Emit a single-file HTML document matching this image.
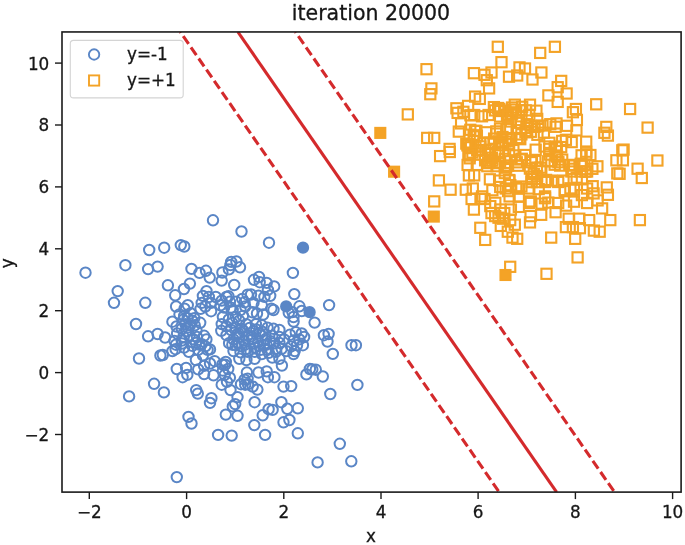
<!DOCTYPE html>
<html><head><meta charset="utf-8"><title>iteration 20000</title>
<style>html,body{margin:0;padding:0;background:#fff}svg{display:block}text{stroke:#161616;stroke-width:0.3px}</style>
</head><body>
<svg width="685" height="545" viewBox="0 0 685 545" font-family="DejaVu Sans, Liberation Sans, sans-serif" fill="#161616">
<rect width="685" height="545" fill="#fff"/>
<clipPath id="c"><rect x="62.0" y="31.95" width="619.1" height="460.15000000000003"/></clipPath>
<g clip-path="url(#c)">
<g fill="none" stroke="#5a86c6" stroke-width="2.0">
<circle cx="85.5" cy="272.7" r="5.2"/>
<circle cx="125.4" cy="265.2" r="5.2"/>
<circle cx="149.2" cy="250.0" r="5.2"/>
<circle cx="164.2" cy="247.7" r="5.2"/>
<circle cx="180.8" cy="245.1" r="5.2"/>
<circle cx="184.3" cy="246.5" r="5.2"/>
<circle cx="213.0" cy="220.3" r="5.2"/>
<circle cx="148.1" cy="269.1" r="5.2"/>
<circle cx="157.6" cy="266.6" r="5.2"/>
<circle cx="191.5" cy="268.9" r="5.2"/>
<circle cx="199.5" cy="272.9" r="5.2"/>
<circle cx="206.0" cy="270.8" r="5.2"/>
<circle cx="209.7" cy="277.6" r="5.2"/>
<circle cx="117.7" cy="291.1" r="5.2"/>
<circle cx="114.0" cy="302.8" r="5.2"/>
<circle cx="145.3" cy="302.8" r="5.2"/>
<circle cx="167.9" cy="285.3" r="5.2"/>
<circle cx="189.9" cy="283.6" r="5.2"/>
<circle cx="184.0" cy="289.0" r="5.2"/>
<circle cx="175.2" cy="295.3" r="5.2"/>
<circle cx="176.1" cy="306.5" r="5.2"/>
<circle cx="187.8" cy="305.1" r="5.2"/>
<circle cx="184.5" cy="308.6" r="5.2"/>
<circle cx="206.5" cy="291.1" r="5.2"/>
<circle cx="222.4" cy="272.5" r="5.2"/>
<circle cx="221.7" cy="280.6" r="5.2"/>
<circle cx="234.2" cy="285.0" r="5.2"/>
<circle cx="230.5" cy="265.0" r="5.2"/>
<circle cx="240.0" cy="267.3" r="5.2"/>
<circle cx="236.4" cy="261.5" r="5.2"/>
<circle cx="254.0" cy="279.8" r="5.2"/>
<circle cx="259.0" cy="277.0" r="5.2"/>
<circle cx="242.2" cy="298.9" r="5.2"/>
<circle cx="251.0" cy="294.5" r="5.2"/>
<circle cx="241.5" cy="231.5" r="5.2"/>
<circle cx="269.0" cy="242.7" r="5.2"/>
<circle cx="231.2" cy="261.9" r="5.2"/>
<circle cx="228.9" cy="269.4" r="5.2"/>
<circle cx="292.9" cy="272.9" r="5.2"/>
<circle cx="259.7" cy="282.2" r="5.2"/>
<circle cx="266.7" cy="282.9" r="5.2"/>
<circle cx="274.2" cy="286.4" r="5.2"/>
<circle cx="267.9" cy="289.9" r="5.2"/>
<circle cx="294.3" cy="294.1" r="5.2"/>
<circle cx="258.5" cy="295.8" r="5.2"/>
<circle cx="264.4" cy="296.9" r="5.2"/>
<circle cx="270.2" cy="295.8" r="5.2"/>
<circle cx="329.1" cy="305.1" r="5.2"/>
<circle cx="299.4" cy="306.3" r="5.2"/>
<circle cx="301.8" cy="311.0" r="5.2"/>
<circle cx="292.4" cy="312.1" r="5.2"/>
<circle cx="293.6" cy="321.5" r="5.2"/>
<circle cx="314.6" cy="322.6" r="5.2"/>
<circle cx="271.4" cy="308.6" r="5.2"/>
<circle cx="263.2" cy="314.5" r="5.2"/>
<circle cx="288.8" cy="312.9" r="5.2"/>
<circle cx="293.5" cy="317.0" r="5.2"/>
<circle cx="129.1" cy="396.4" r="5.2"/>
<circle cx="139.0" cy="358.5" r="5.2"/>
<circle cx="148.1" cy="336.3" r="5.2"/>
<circle cx="136.0" cy="324.0" r="5.2"/>
<circle cx="157.6" cy="334.0" r="5.2"/>
<circle cx="165.1" cy="337.5" r="5.2"/>
<circle cx="160.4" cy="355.5" r="5.2"/>
<circle cx="162.8" cy="355.0" r="5.2"/>
<circle cx="154.1" cy="383.8" r="5.2"/>
<circle cx="163.9" cy="392.4" r="5.2"/>
<circle cx="176.8" cy="369.0" r="5.2"/>
<circle cx="186.1" cy="367.9" r="5.2"/>
<circle cx="187.3" cy="374.9" r="5.2"/>
<circle cx="182.6" cy="377.2" r="5.2"/>
<circle cx="196.2" cy="390.1" r="5.2"/>
<circle cx="197.8" cy="393.6" r="5.2"/>
<circle cx="211.4" cy="398.2" r="5.2"/>
<circle cx="210.0" cy="402.9" r="5.2"/>
<circle cx="188.5" cy="416.9" r="5.2"/>
<circle cx="191.5" cy="423.5" r="5.2"/>
<circle cx="218.1" cy="434.9" r="5.2"/>
<circle cx="175.6" cy="349.2" r="5.2"/>
<circle cx="174.5" cy="341.0" r="5.2"/>
<circle cx="351.5" cy="345.2" r="5.2"/>
<circle cx="355.9" cy="345.2" r="5.2"/>
<circle cx="323.9" cy="335.2" r="5.2"/>
<circle cx="328.6" cy="334.0" r="5.2"/>
<circle cx="327.5" cy="341.5" r="5.2"/>
<circle cx="332.8" cy="353.9" r="5.2"/>
<circle cx="357.4" cy="384.9" r="5.2"/>
<circle cx="330.3" cy="394.0" r="5.2"/>
<circle cx="322.8" cy="376.5" r="5.2"/>
<circle cx="315.8" cy="369.7" r="5.2"/>
<circle cx="309.9" cy="369.0" r="5.2"/>
<circle cx="306.4" cy="374.4" r="5.2"/>
<circle cx="339.8" cy="443.8" r="5.2"/>
<circle cx="297.8" cy="433.3" r="5.2"/>
<circle cx="265.1" cy="434.9" r="5.2"/>
<circle cx="231.7" cy="435.6" r="5.2"/>
<circle cx="254.3" cy="425.1" r="5.2"/>
<circle cx="283.5" cy="422.3" r="5.2"/>
<circle cx="289.4" cy="420.0" r="5.2"/>
<circle cx="297.8" cy="408.3" r="5.2"/>
<circle cx="287.3" cy="408.8" r="5.2"/>
<circle cx="281.4" cy="402.2" r="5.2"/>
<circle cx="272.6" cy="409.9" r="5.2"/>
<circle cx="268.6" cy="409.2" r="5.2"/>
<circle cx="262.7" cy="415.3" r="5.2"/>
<circle cx="254.6" cy="402.2" r="5.2"/>
<circle cx="237.5" cy="415.8" r="5.2"/>
<circle cx="225.8" cy="414.6" r="5.2"/>
<circle cx="232.8" cy="406.4" r="5.2"/>
<circle cx="235.2" cy="404.1" r="5.2"/>
<circle cx="237.5" cy="397.1" r="5.2"/>
<circle cx="230.5" cy="390.1" r="5.2"/>
<circle cx="291.2" cy="386.1" r="5.2"/>
<circle cx="283.5" cy="386.6" r="5.2"/>
<circle cx="274.4" cy="377.2" r="5.2"/>
<circle cx="267.9" cy="377.2" r="5.2"/>
<circle cx="266.7" cy="371.4" r="5.2"/>
<circle cx="258.5" cy="372.5" r="5.2"/>
<circle cx="281.9" cy="365.5" r="5.2"/>
<circle cx="257.4" cy="389.6" r="5.2"/>
<circle cx="252.7" cy="386.6" r="5.2"/>
<circle cx="248.0" cy="384.2" r="5.2"/>
<circle cx="241.0" cy="384.2" r="5.2"/>
<circle cx="244.5" cy="379.6" r="5.2"/>
<circle cx="246.9" cy="372.5" r="5.2"/>
<circle cx="227.0" cy="381.9" r="5.2"/>
<circle cx="224.7" cy="374.9" r="5.2"/>
<circle cx="228.2" cy="369.0" r="5.2"/>
<circle cx="222.3" cy="364.4" r="5.2"/>
<circle cx="225.8" cy="362.0" r="5.2"/>
<circle cx="176.8" cy="477.1" r="5.2"/>
<circle cx="317.6" cy="462.4" r="5.2"/>
<circle cx="351.3" cy="461.3" r="5.2"/>
<circle cx="202.9" cy="295.9" r="5.2"/>
<circle cx="208.8" cy="297.0" r="5.2"/>
<circle cx="201.7" cy="302.9" r="5.2"/>
<circle cx="205.3" cy="306.5" r="5.2"/>
<circle cx="211.1" cy="302.9" r="5.2"/>
<circle cx="215.8" cy="297.0" r="5.2"/>
<circle cx="211.1" cy="311.2" r="5.2"/>
<circle cx="200.6" cy="308.8" r="5.2"/>
<circle cx="221.7" cy="300.6" r="5.2"/>
<circle cx="226.4" cy="297.0" r="5.2"/>
<circle cx="229.9" cy="301.8" r="5.2"/>
<circle cx="224.1" cy="307.6" r="5.2"/>
<circle cx="231.1" cy="307.6" r="5.2"/>
<circle cx="220.5" cy="305.3" r="5.2"/>
<circle cx="245.2" cy="306.5" r="5.2"/>
<circle cx="240.5" cy="310.0" r="5.2"/>
<circle cx="247.6" cy="294.7" r="5.2"/>
<circle cx="187.6" cy="318.2" r="5.2"/>
<circle cx="192.3" cy="320.6" r="5.2"/>
<circle cx="185.3" cy="324.1" r="5.2"/>
<circle cx="190.0" cy="325.3" r="5.2"/>
<circle cx="194.7" cy="325.3" r="5.2"/>
<circle cx="181.8" cy="328.8" r="5.2"/>
<circle cx="186.5" cy="331.1" r="5.2"/>
<circle cx="172.4" cy="321.7" r="5.2"/>
<circle cx="177.1" cy="333.5" r="5.2"/>
<circle cx="181.8" cy="340.5" r="5.2"/>
<circle cx="184.1" cy="347.6" r="5.2"/>
<circle cx="172.4" cy="351.1" r="5.2"/>
<circle cx="197.0" cy="337.0" r="5.2"/>
<circle cx="204.1" cy="335.8" r="5.2"/>
<circle cx="206.4" cy="339.4" r="5.2"/>
<circle cx="195.9" cy="342.9" r="5.2"/>
<circle cx="201.7" cy="344.1" r="5.2"/>
<circle cx="205.3" cy="346.4" r="5.2"/>
<circle cx="198.2" cy="349.9" r="5.2"/>
<circle cx="207.6" cy="349.9" r="5.2"/>
<circle cx="193.5" cy="339.4" r="5.2"/>
<circle cx="222.9" cy="317.0" r="5.2"/>
<circle cx="228.8" cy="319.4" r="5.2"/>
<circle cx="221.7" cy="324.1" r="5.2"/>
<circle cx="226.4" cy="326.4" r="5.2"/>
<circle cx="232.3" cy="322.9" r="5.2"/>
<circle cx="235.8" cy="317.0" r="5.2"/>
<circle cx="239.3" cy="320.6" r="5.2"/>
<circle cx="242.9" cy="315.9" r="5.2"/>
<circle cx="235.8" cy="327.6" r="5.2"/>
<circle cx="241.7" cy="328.8" r="5.2"/>
<circle cx="246.4" cy="324.1" r="5.2"/>
<circle cx="231.1" cy="330.0" r="5.2"/>
<circle cx="233.5" cy="339.4" r="5.2"/>
<circle cx="239.3" cy="337.0" r="5.2"/>
<circle cx="244.0" cy="340.5" r="5.2"/>
<circle cx="235.8" cy="345.2" r="5.2"/>
<circle cx="241.7" cy="346.4" r="5.2"/>
<circle cx="247.6" cy="335.8" r="5.2"/>
<circle cx="233.5" cy="351.1" r="5.2"/>
<circle cx="240.5" cy="352.3" r="5.2"/>
<circle cx="246.4" cy="348.8" r="5.2"/>
<circle cx="253.5" cy="302.9" r="5.2"/>
<circle cx="261.8" cy="305.3" r="5.2"/>
<circle cx="273.5" cy="310.0" r="5.2"/>
<circle cx="252.4" cy="312.3" r="5.2"/>
<circle cx="257.0" cy="313.5" r="5.2"/>
<circle cx="255.9" cy="324.1" r="5.2"/>
<circle cx="261.8" cy="325.3" r="5.2"/>
<circle cx="267.6" cy="327.6" r="5.2"/>
<circle cx="273.5" cy="328.8" r="5.2"/>
<circle cx="279.4" cy="330.0" r="5.2"/>
<circle cx="253.5" cy="331.1" r="5.2"/>
<circle cx="259.4" cy="333.5" r="5.2"/>
<circle cx="265.3" cy="334.7" r="5.2"/>
<circle cx="272.3" cy="335.8" r="5.2"/>
<circle cx="279.4" cy="337.0" r="5.2"/>
<circle cx="252.4" cy="339.4" r="5.2"/>
<circle cx="258.2" cy="341.7" r="5.2"/>
<circle cx="264.1" cy="345.2" r="5.2"/>
<circle cx="279.4" cy="342.9" r="5.2"/>
<circle cx="284.1" cy="339.4" r="5.2"/>
<circle cx="254.7" cy="347.6" r="5.2"/>
<circle cx="260.6" cy="349.9" r="5.2"/>
<circle cx="267.6" cy="349.9" r="5.2"/>
<circle cx="275.9" cy="348.8" r="5.2"/>
<circle cx="281.7" cy="348.8" r="5.2"/>
<circle cx="290.0" cy="334.7" r="5.2"/>
<circle cx="295.8" cy="332.3" r="5.2"/>
<circle cx="301.7" cy="333.5" r="5.2"/>
<circle cx="293.5" cy="340.5" r="5.2"/>
<circle cx="299.4" cy="339.4" r="5.2"/>
<circle cx="304.1" cy="337.0" r="5.2"/>
<circle cx="291.1" cy="346.4" r="5.2"/>
<circle cx="297.0" cy="345.2" r="5.2"/>
<circle cx="302.9" cy="345.2" r="5.2"/>
<circle cx="286.4" cy="351.1" r="5.2"/>
<circle cx="294.7" cy="351.1" r="5.2"/>
<circle cx="175.9" cy="344.7" r="5.2"/>
<circle cx="181.8" cy="343.5" r="5.2"/>
<circle cx="188.8" cy="351.8" r="5.2"/>
<circle cx="192.3" cy="345.9" r="5.2"/>
<circle cx="199.4" cy="344.7" r="5.2"/>
<circle cx="210.0" cy="349.4" r="5.2"/>
<circle cx="202.9" cy="355.3" r="5.2"/>
<circle cx="195.9" cy="360.0" r="5.2"/>
<circle cx="198.2" cy="369.4" r="5.2"/>
<circle cx="204.1" cy="365.9" r="5.2"/>
<circle cx="210.0" cy="363.5" r="5.2"/>
<circle cx="214.7" cy="361.2" r="5.2"/>
<circle cx="204.1" cy="374.1" r="5.2"/>
<circle cx="213.5" cy="375.3" r="5.2"/>
<circle cx="225.2" cy="364.7" r="5.2"/>
<circle cx="222.9" cy="370.6" r="5.2"/>
<circle cx="229.9" cy="377.6" r="5.2"/>
<circle cx="221.7" cy="384.7" r="5.2"/>
<circle cx="247.6" cy="378.8" r="5.2"/>
<circle cx="245.2" cy="384.7" r="5.2"/>
<circle cx="232.3" cy="344.7" r="5.2"/>
<circle cx="238.2" cy="343.5" r="5.2"/>
<circle cx="245.2" cy="344.7" r="5.2"/>
<circle cx="247.6" cy="351.8" r="5.2"/>
<circle cx="239.3" cy="358.8" r="5.2"/>
<circle cx="246.4" cy="360.0" r="5.2"/>
<circle cx="312.3" cy="369.4" r="5.2"/>
<circle cx="253.5" cy="343.5" r="5.2"/>
<circle cx="259.4" cy="345.9" r="5.2"/>
<circle cx="266.5" cy="344.7" r="5.2"/>
<circle cx="273.5" cy="343.5" r="5.2"/>
<circle cx="254.7" cy="351.8" r="5.2"/>
<circle cx="261.8" cy="354.1" r="5.2"/>
<circle cx="268.8" cy="352.9" r="5.2"/>
<circle cx="275.9" cy="351.8" r="5.2"/>
<circle cx="272.3" cy="357.6" r="5.2"/>
<circle cx="279.4" cy="358.8" r="5.2"/>
<circle cx="293.5" cy="354.1" r="5.2"/>
<circle cx="254.7" cy="358.8" r="5.2"/>
<circle cx="179.5" cy="314.5" r="5.2"/>
<circle cx="183.2" cy="319.8" r="5.2"/>
<circle cx="176.5" cy="326.5" r="5.2"/>
<circle cx="189.5" cy="335.2" r="5.2"/>
<circle cx="196.5" cy="330.5" r="5.2"/>
<circle cx="200.2" cy="322.8" r="5.2"/>
<circle cx="183.5" cy="336.8" r="5.2"/>
<circle cx="226.5" cy="335.2" r="5.2"/>
<circle cx="238.2" cy="333.1" r="5.2"/>
<circle cx="229.1" cy="343.2" r="5.2"/>
<circle cx="243.5" cy="331.2" r="5.2"/>
<circle cx="184.2" cy="315.9" r="5.2"/>
<circle cx="190.6" cy="313.2" r="5.2"/>
<circle cx="194.3" cy="318.1" r="5.2"/>
<circle cx="187.9" cy="327.6" r="5.2"/>
<circle cx="249.6" cy="327.9" r="5.2"/>
<circle cx="256.3" cy="329.4" r="5.2"/>
<circle cx="262.2" cy="331.7" r="5.2"/>
<circle cx="251.5" cy="336.2" r="5.2"/>
<circle cx="228.4" cy="296.1" r="5.2"/>
<circle cx="236.1" cy="301.7" r="5.2"/>
<circle cx="244.6" cy="302.3" r="5.2"/>
<circle cx="232.7" cy="309.9" r="5.2"/>
<circle cx="265.8" cy="338.9" r="5.2"/>
<circle cx="270.4" cy="341.1" r="5.2"/>
<circle cx="221.3" cy="330.8" r="5.2"/>
<circle cx="237.1" cy="334.9" r="5.2"/>
</g>
<g fill="#5a86c6" stroke="#5a86c6" stroke-width="1.9">
<circle cx="303.0" cy="247.7" r="5.2"/>
<circle cx="286.2" cy="306.4" r="5.2"/>
<circle cx="309.6" cy="312.2" r="5.2"/>
</g>
<g fill="none" stroke="#f4a326" stroke-width="2.1">
<rect x="402.7" y="109.3" width="10.2" height="10.2"/>
<rect x="421.4" y="64.1" width="10.2" height="10.2"/>
<rect x="426.3" y="83.3" width="10.2" height="10.2"/>
<rect x="425.2" y="89.1" width="10.2" height="10.2"/>
<rect x="422.1" y="132.8" width="10.2" height="10.2"/>
<rect x="429.1" y="132.8" width="10.2" height="10.2"/>
<rect x="444.5" y="143.8" width="10.2" height="10.2"/>
<rect x="444.7" y="146.9" width="10.2" height="10.2"/>
<rect x="435.0" y="151.0" width="10.2" height="10.2"/>
<rect x="492.7" y="41.7" width="10.2" height="10.2"/>
<rect x="496.4" y="57.1" width="10.2" height="10.2"/>
<rect x="468.8" y="68.1" width="10.2" height="10.2"/>
<rect x="479.4" y="69.7" width="10.2" height="10.2"/>
<rect x="486.4" y="67.4" width="10.2" height="10.2"/>
<rect x="481.7" y="75.1" width="10.2" height="10.2"/>
<rect x="484.0" y="83.3" width="10.2" height="10.2"/>
<rect x="503.9" y="71.6" width="10.2" height="10.2"/>
<rect x="512.1" y="70.4" width="10.2" height="10.2"/>
<rect x="514.4" y="62.3" width="10.2" height="10.2"/>
<rect x="470.0" y="91.5" width="10.2" height="10.2"/>
<rect x="474.7" y="93.8" width="10.2" height="10.2"/>
<rect x="451.3" y="103.2" width="10.2" height="10.2"/>
<rect x="452.5" y="107.8" width="10.2" height="10.2"/>
<rect x="458.3" y="106.7" width="10.2" height="10.2"/>
<rect x="463.0" y="100.8" width="10.2" height="10.2"/>
<rect x="465.3" y="110.2" width="10.2" height="10.2"/>
<rect x="456.0" y="118.3" width="10.2" height="10.2"/>
<rect x="453.7" y="126.5" width="10.2" height="10.2"/>
<rect x="509.7" y="99.6" width="10.2" height="10.2"/>
<rect x="524.9" y="99.6" width="10.2" height="10.2"/>
<rect x="549.8" y="41.7" width="10.2" height="10.2"/>
<rect x="535.1" y="47.8" width="10.2" height="10.2"/>
<rect x="536.3" y="67.4" width="10.2" height="10.2"/>
<rect x="527.4" y="74.4" width="10.2" height="10.2"/>
<rect x="519.9" y="63.4" width="10.2" height="10.2"/>
<rect x="556.1" y="75.8" width="10.2" height="10.2"/>
<rect x="552.6" y="82.1" width="10.2" height="10.2"/>
<rect x="543.3" y="90.3" width="10.2" height="10.2"/>
<rect x="561.5" y="88.4" width="10.2" height="10.2"/>
<rect x="552.6" y="96.8" width="10.2" height="10.2"/>
<rect x="591.1" y="99.2" width="10.2" height="10.2"/>
<rect x="625.0" y="103.9" width="10.2" height="10.2"/>
<rect x="642.5" y="122.5" width="10.2" height="10.2"/>
<rect x="570.8" y="103.9" width="10.2" height="10.2"/>
<rect x="567.8" y="107.1" width="10.2" height="10.2"/>
<rect x="571.8" y="114.8" width="10.2" height="10.2"/>
<rect x="571.3" y="125.3" width="10.2" height="10.2"/>
<rect x="561.9" y="120.7" width="10.2" height="10.2"/>
<rect x="601.2" y="121.8" width="10.2" height="10.2"/>
<rect x="599.3" y="127.7" width="10.2" height="10.2"/>
<rect x="602.8" y="130.5" width="10.2" height="10.2"/>
<rect x="581.1" y="136.6" width="10.2" height="10.2"/>
<rect x="617.2" y="145.2" width="10.2" height="10.2"/>
<rect x="618.5" y="144.5" width="10.2" height="10.2"/>
<rect x="611.3" y="155.2" width="10.2" height="10.2"/>
<rect x="617.8" y="155.2" width="10.2" height="10.2"/>
<rect x="585.3" y="149.9" width="10.2" height="10.2"/>
<rect x="560.8" y="134.7" width="10.2" height="10.2"/>
<rect x="566.6" y="137.0" width="10.2" height="10.2"/>
<rect x="551.4" y="118.3" width="10.2" height="10.2"/>
<rect x="505.1" y="261.7" width="10.2" height="10.2"/>
<rect x="433.8" y="175.3" width="10.2" height="10.2"/>
<rect x="445.5" y="184.6" width="10.2" height="10.2"/>
<rect x="429.1" y="196.3" width="10.2" height="10.2"/>
<rect x="475.2" y="222.7" width="10.2" height="10.2"/>
<rect x="480.1" y="234.8" width="10.2" height="10.2"/>
<rect x="468.8" y="204.5" width="10.2" height="10.2"/>
<rect x="466.5" y="193.9" width="10.2" height="10.2"/>
<rect x="460.7" y="184.6" width="10.2" height="10.2"/>
<rect x="467.7" y="183.4" width="10.2" height="10.2"/>
<rect x="479.4" y="193.9" width="10.2" height="10.2"/>
<rect x="485.2" y="201.0" width="10.2" height="10.2"/>
<rect x="486.4" y="208.0" width="10.2" height="10.2"/>
<rect x="493.4" y="212.6" width="10.2" height="10.2"/>
<rect x="495.7" y="220.8" width="10.2" height="10.2"/>
<rect x="499.2" y="208.0" width="10.2" height="10.2"/>
<rect x="502.7" y="226.6" width="10.2" height="10.2"/>
<rect x="507.4" y="232.5" width="10.2" height="10.2"/>
<rect x="512.1" y="233.7" width="10.2" height="10.2"/>
<rect x="505.1" y="215.0" width="10.2" height="10.2"/>
<rect x="509.7" y="219.6" width="10.2" height="10.2"/>
<rect x="524.9" y="217.3" width="10.2" height="10.2"/>
<rect x="541.4" y="268.7" width="10.2" height="10.2"/>
<rect x="572.5" y="252.3" width="10.2" height="10.2"/>
<rect x="546.1" y="232.5" width="10.2" height="10.2"/>
<rect x="570.1" y="233.7" width="10.2" height="10.2"/>
<rect x="634.8" y="215.0" width="10.2" height="10.2"/>
<rect x="605.2" y="215.0" width="10.2" height="10.2"/>
<rect x="597.0" y="203.3" width="10.2" height="10.2"/>
<rect x="601.7" y="182.3" width="10.2" height="10.2"/>
<rect x="602.8" y="189.7" width="10.2" height="10.2"/>
<rect x="636.7" y="172.9" width="10.2" height="10.2"/>
<rect x="632.5" y="163.6" width="10.2" height="10.2"/>
<rect x="652.3" y="155.4" width="10.2" height="10.2"/>
<rect x="612.2" y="168.3" width="10.2" height="10.2"/>
<rect x="614.5" y="168.7" width="10.2" height="10.2"/>
<rect x="594.6" y="226.6" width="10.2" height="10.2"/>
<rect x="588.8" y="225.5" width="10.2" height="10.2"/>
<rect x="584.1" y="215.0" width="10.2" height="10.2"/>
<rect x="587.6" y="181.1" width="10.2" height="10.2"/>
<rect x="592.3" y="161.2" width="10.2" height="10.2"/>
<rect x="560.8" y="222.0" width="10.2" height="10.2"/>
<rect x="567.8" y="222.0" width="10.2" height="10.2"/>
<rect x="574.8" y="223.1" width="10.2" height="10.2"/>
<rect x="469.1" y="109.9" width="10.2" height="10.2"/>
<rect x="488.8" y="102.0" width="10.2" height="10.2"/>
<rect x="495.3" y="105.9" width="10.2" height="10.2"/>
<rect x="483.5" y="109.9" width="10.2" height="10.2"/>
<rect x="476.9" y="111.2" width="10.2" height="10.2"/>
<rect x="501.9" y="109.9" width="10.2" height="10.2"/>
<rect x="511.1" y="107.2" width="10.2" height="10.2"/>
<rect x="516.3" y="111.2" width="10.2" height="10.2"/>
<rect x="524.2" y="109.9" width="10.2" height="10.2"/>
<rect x="532.1" y="113.8" width="10.2" height="10.2"/>
<rect x="505.8" y="116.4" width="10.2" height="10.2"/>
<rect x="513.7" y="117.7" width="10.2" height="10.2"/>
<rect x="521.6" y="119.1" width="10.2" height="10.2"/>
<rect x="529.5" y="121.7" width="10.2" height="10.2"/>
<rect x="537.4" y="120.4" width="10.2" height="10.2"/>
<rect x="545.2" y="119.1" width="10.2" height="10.2"/>
<rect x="550.5" y="121.7" width="10.2" height="10.2"/>
<rect x="587.3" y="163.7" width="10.2" height="10.2"/>
<rect x="463.8" y="170.3" width="10.2" height="10.2"/>
<rect x="469.1" y="170.3" width="10.2" height="10.2"/>
<rect x="462.5" y="159.8" width="10.2" height="10.2"/>
<rect x="471.7" y="159.8" width="10.2" height="10.2"/>
<rect x="482.2" y="161.1" width="10.2" height="10.2"/>
<rect x="491.4" y="161.1" width="10.2" height="10.2"/>
<rect x="484.8" y="174.2" width="10.2" height="10.2"/>
<rect x="494.0" y="175.5" width="10.2" height="10.2"/>
<rect x="500.6" y="183.4" width="10.2" height="10.2"/>
<rect x="511.1" y="182.1" width="10.2" height="10.2"/>
<rect x="504.5" y="191.3" width="10.2" height="10.2"/>
<rect x="513.7" y="191.3" width="10.2" height="10.2"/>
<rect x="524.2" y="183.4" width="10.2" height="10.2"/>
<rect x="526.9" y="174.2" width="10.2" height="10.2"/>
<rect x="540.0" y="176.9" width="10.2" height="10.2"/>
<rect x="540.0" y="191.3" width="10.2" height="10.2"/>
<rect x="553.1" y="176.9" width="10.2" height="10.2"/>
<rect x="558.4" y="175.5" width="10.2" height="10.2"/>
<rect x="559.7" y="186.1" width="10.2" height="10.2"/>
<rect x="568.9" y="184.7" width="10.2" height="10.2"/>
<rect x="576.8" y="190.0" width="10.2" height="10.2"/>
<rect x="582.0" y="183.4" width="10.2" height="10.2"/>
<rect x="553.1" y="197.9" width="10.2" height="10.2"/>
<rect x="561.0" y="200.5" width="10.2" height="10.2"/>
<rect x="568.9" y="196.6" width="10.2" height="10.2"/>
<rect x="550.5" y="207.1" width="10.2" height="10.2"/>
<rect x="536.1" y="209.7" width="10.2" height="10.2"/>
<rect x="525.5" y="211.0" width="10.2" height="10.2"/>
<rect x="513.7" y="201.8" width="10.2" height="10.2"/>
<rect x="505.8" y="204.4" width="10.2" height="10.2"/>
<rect x="495.3" y="204.4" width="10.2" height="10.2"/>
<rect x="490.1" y="211.0" width="10.2" height="10.2"/>
<rect x="498.0" y="213.6" width="10.2" height="10.2"/>
<rect x="476.9" y="191.3" width="10.2" height="10.2"/>
<rect x="563.6" y="213.6" width="10.2" height="10.2"/>
<rect x="574.2" y="213.6" width="10.2" height="10.2"/>
<rect x="582.0" y="197.9" width="10.2" height="10.2"/>
<rect x="592.5" y="195.3" width="10.2" height="10.2"/>
<rect x="576.8" y="174.2" width="10.2" height="10.2"/>
<rect x="566.3" y="166.4" width="10.2" height="10.2"/>
<rect x="582.0" y="166.4" width="10.2" height="10.2"/>
<rect x="481.0" y="127.2" width="10.2" height="10.2"/>
<rect x="501.3" y="123.9" width="10.2" height="10.2"/>
<rect x="494.1" y="136.3" width="10.2" height="10.2"/>
<rect x="464.5" y="142.2" width="10.2" height="10.2"/>
<rect x="463.2" y="139.1" width="10.2" height="10.2"/>
<rect x="465.2" y="124.7" width="10.2" height="10.2"/>
<rect x="487.2" y="155.6" width="10.2" height="10.2"/>
<rect x="468.6" y="130.3" width="10.2" height="10.2"/>
<rect x="499.8" y="160.7" width="10.2" height="10.2"/>
<rect x="496.7" y="137.6" width="10.2" height="10.2"/>
<rect x="521.4" y="122.9" width="10.2" height="10.2"/>
<rect x="514.1" y="133.1" width="10.2" height="10.2"/>
<rect x="469.8" y="125.8" width="10.2" height="10.2"/>
<rect x="480.0" y="155.2" width="10.2" height="10.2"/>
<rect x="472.1" y="145.3" width="10.2" height="10.2"/>
<rect x="500.5" y="136.5" width="10.2" height="10.2"/>
<rect x="494.9" y="123.5" width="10.2" height="10.2"/>
<rect x="464.6" y="129.6" width="10.2" height="10.2"/>
<rect x="503.1" y="138.9" width="10.2" height="10.2"/>
<rect x="480.4" y="145.5" width="10.2" height="10.2"/>
<rect x="489.0" y="133.5" width="10.2" height="10.2"/>
<rect x="510.2" y="150.3" width="10.2" height="10.2"/>
<rect x="476.0" y="145.0" width="10.2" height="10.2"/>
<rect x="493.5" y="157.7" width="10.2" height="10.2"/>
<rect x="506.1" y="133.0" width="10.2" height="10.2"/>
<rect x="521.7" y="125.9" width="10.2" height="10.2"/>
<rect x="486.8" y="152.7" width="10.2" height="10.2"/>
<rect x="470.3" y="141.4" width="10.2" height="10.2"/>
<rect x="463.3" y="149.0" width="10.2" height="10.2"/>
<rect x="508.3" y="145.0" width="10.2" height="10.2"/>
<rect x="515.2" y="134.1" width="10.2" height="10.2"/>
<rect x="504.0" y="145.9" width="10.2" height="10.2"/>
<rect x="496.9" y="140.1" width="10.2" height="10.2"/>
<rect x="513.0" y="160.6" width="10.2" height="10.2"/>
<rect x="490.3" y="148.8" width="10.2" height="10.2"/>
<rect x="464.7" y="150.4" width="10.2" height="10.2"/>
<rect x="501.0" y="162.6" width="10.2" height="10.2"/>
<rect x="511.9" y="132.9" width="10.2" height="10.2"/>
<rect x="484.8" y="149.0" width="10.2" height="10.2"/>
<rect x="462.3" y="140.3" width="10.2" height="10.2"/>
<rect x="471.3" y="125.8" width="10.2" height="10.2"/>
<rect x="464.6" y="153.2" width="10.2" height="10.2"/>
<rect x="468.9" y="131.3" width="10.2" height="10.2"/>
<rect x="485.1" y="157.5" width="10.2" height="10.2"/>
<rect x="465.9" y="139.8" width="10.2" height="10.2"/>
<rect x="495.0" y="158.0" width="10.2" height="10.2"/>
<rect x="511.7" y="157.2" width="10.2" height="10.2"/>
<rect x="478.2" y="138.3" width="10.2" height="10.2"/>
<rect x="483.1" y="158.0" width="10.2" height="10.2"/>
<rect x="520.3" y="127.2" width="10.2" height="10.2"/>
<rect x="471.8" y="130.6" width="10.2" height="10.2"/>
<rect x="475.4" y="141.3" width="10.2" height="10.2"/>
<rect x="497.4" y="131.9" width="10.2" height="10.2"/>
<rect x="461.2" y="138.5" width="10.2" height="10.2"/>
<rect x="483.8" y="144.7" width="10.2" height="10.2"/>
<rect x="520.0" y="149.9" width="10.2" height="10.2"/>
<rect x="492.9" y="146.8" width="10.2" height="10.2"/>
<rect x="502.8" y="123.2" width="10.2" height="10.2"/>
<rect x="516.7" y="153.7" width="10.2" height="10.2"/>
<rect x="515.1" y="154.4" width="10.2" height="10.2"/>
<rect x="485.2" y="137.7" width="10.2" height="10.2"/>
<rect x="467.3" y="147.5" width="10.2" height="10.2"/>
<rect x="493.0" y="102.9" width="10.2" height="10.2"/>
<rect x="500.3" y="105.6" width="10.2" height="10.2"/>
<rect x="506.9" y="102.4" width="10.2" height="10.2"/>
<rect x="489.9" y="105.3" width="10.2" height="10.2"/>
<rect x="495.0" y="111.4" width="10.2" height="10.2"/>
<rect x="491.2" y="126.3" width="10.2" height="10.2"/>
<rect x="520.6" y="105.2" width="10.2" height="10.2"/>
<rect x="502.5" y="111.0" width="10.2" height="10.2"/>
<rect x="508.1" y="104.5" width="10.2" height="10.2"/>
<rect x="532.3" y="129.7" width="10.2" height="10.2"/>
<rect x="513.2" y="114.9" width="10.2" height="10.2"/>
<rect x="494.2" y="103.9" width="10.2" height="10.2"/>
<rect x="507.0" y="108.6" width="10.2" height="10.2"/>
<rect x="531.3" y="105.6" width="10.2" height="10.2"/>
<rect x="491.1" y="128.5" width="10.2" height="10.2"/>
<rect x="516.3" y="105.2" width="10.2" height="10.2"/>
<rect x="517.1" y="101.7" width="10.2" height="10.2"/>
<rect x="516.3" y="129.3" width="10.2" height="10.2"/>
<rect x="533.1" y="121.1" width="10.2" height="10.2"/>
<rect x="503.0" y="111.5" width="10.2" height="10.2"/>
<rect x="549.6" y="159.6" width="10.2" height="10.2"/>
<rect x="564.2" y="159.8" width="10.2" height="10.2"/>
<rect x="556.1" y="142.0" width="10.2" height="10.2"/>
<rect x="575.4" y="166.4" width="10.2" height="10.2"/>
<rect x="577.0" y="160.7" width="10.2" height="10.2"/>
<rect x="575.6" y="158.6" width="10.2" height="10.2"/>
<rect x="552.0" y="151.5" width="10.2" height="10.2"/>
<rect x="557.1" y="135.8" width="10.2" height="10.2"/>
<rect x="544.0" y="143.8" width="10.2" height="10.2"/>
<rect x="553.3" y="157.1" width="10.2" height="10.2"/>
<rect x="581.2" y="149.2" width="10.2" height="10.2"/>
<rect x="580.4" y="166.5" width="10.2" height="10.2"/>
<rect x="581.1" y="146.6" width="10.2" height="10.2"/>
<rect x="551.7" y="142.2" width="10.2" height="10.2"/>
<rect x="550.8" y="141.4" width="10.2" height="10.2"/>
<rect x="567.9" y="163.7" width="10.2" height="10.2"/>
<rect x="576.5" y="150.2" width="10.2" height="10.2"/>
<rect x="569.0" y="160.5" width="10.2" height="10.2"/>
<rect x="546.3" y="156.0" width="10.2" height="10.2"/>
<rect x="579.3" y="159.9" width="10.2" height="10.2"/>
<rect x="539.4" y="141.4" width="10.2" height="10.2"/>
<rect x="526.8" y="155.4" width="10.2" height="10.2"/>
<rect x="530.2" y="155.9" width="10.2" height="10.2"/>
<rect x="544.3" y="137.7" width="10.2" height="10.2"/>
<rect x="531.7" y="162.5" width="10.2" height="10.2"/>
<rect x="538.8" y="127.6" width="10.2" height="10.2"/>
<rect x="525.7" y="126.7" width="10.2" height="10.2"/>
<rect x="542.8" y="156.2" width="10.2" height="10.2"/>
<rect x="526.1" y="157.1" width="10.2" height="10.2"/>
<rect x="544.5" y="149.5" width="10.2" height="10.2"/>
<rect x="530.6" y="144.6" width="10.2" height="10.2"/>
<rect x="525.8" y="120.5" width="10.2" height="10.2"/>
<rect x="588.5" y="188.3" width="10.2" height="10.2"/>
<rect x="536.5" y="198.5" width="10.2" height="10.2"/>
<rect x="525.7" y="196.3" width="10.2" height="10.2"/>
<rect x="571.6" y="172.5" width="10.2" height="10.2"/>
<rect x="504.4" y="175.4" width="10.2" height="10.2"/>
<rect x="503.0" y="186.0" width="10.2" height="10.2"/>
<rect x="505.2" y="180.0" width="10.2" height="10.2"/>
<rect x="490.2" y="197.7" width="10.2" height="10.2"/>
<rect x="516.3" y="181.4" width="10.2" height="10.2"/>
<rect x="543.2" y="197.5" width="10.2" height="10.2"/>
<rect x="524.1" y="197.9" width="10.2" height="10.2"/>
<rect x="533.6" y="184.0" width="10.2" height="10.2"/>
<rect x="536.2" y="165.6" width="10.2" height="10.2"/>
<rect x="526.4" y="171.5" width="10.2" height="10.2"/>
<rect x="475.4" y="193.7" width="10.2" height="10.2"/>
<rect x="495.1" y="181.9" width="10.2" height="10.2"/>
<rect x="559.7" y="184.9" width="10.2" height="10.2"/>
<rect x="513.0" y="183.6" width="10.2" height="10.2"/>
<rect x="539.9" y="193.1" width="10.2" height="10.2"/>
<rect x="487.3" y="185.1" width="10.2" height="10.2"/>
<rect x="504.0" y="174.9" width="10.2" height="10.2"/>
<rect x="565.3" y="183.2" width="10.2" height="10.2"/>
<rect x="532.0" y="171.0" width="10.2" height="10.2"/>
<rect x="555.1" y="160.5" width="10.2" height="10.2"/>
<rect x="535.3" y="162.6" width="10.2" height="10.2"/>
<rect x="528.7" y="168.8" width="10.2" height="10.2"/>
<rect x="524.8" y="163.5" width="10.2" height="10.2"/>
<rect x="526.5" y="177.0" width="10.2" height="10.2"/>
<rect x="541.0" y="174.8" width="10.2" height="10.2"/>
<rect x="557.1" y="154.5" width="10.2" height="10.2"/>
<rect x="531.8" y="177.0" width="10.2" height="10.2"/>
<rect x="550.3" y="150.4" width="10.2" height="10.2"/>
<rect x="502.9" y="160.5" width="10.2" height="10.2"/>
<rect x="499.7" y="153.8" width="10.2" height="10.2"/>
<rect x="499.7" y="168.0" width="10.2" height="10.2"/>
<rect x="546.6" y="175.5" width="10.2" height="10.2"/>
</g>
<g fill="#f4a326" stroke="#f4a326" stroke-width="1.9">
<rect x="375.2" y="127.8" width="10.2" height="10.2"/>
<rect x="389.0" y="166.6" width="10.2" height="10.2"/>
<rect x="428.7" y="211.5" width="10.2" height="10.2"/>
<rect x="500.4" y="269.9" width="10.2" height="10.2"/>
</g>
<g stroke="#d42a2c" stroke-width="3.1" fill="none">
<line x1="237.9" y1="31.95" x2="556.6" y2="492.1"/>
<line x1="180.3" y1="31.95" x2="499.2" y2="492.1" stroke-dasharray="9.5 4.1" stroke-dashoffset="8.5"/>
<line x1="295.4" y1="31.95" x2="614.5" y2="492.1" stroke-dasharray="9.5 4.1" stroke-dashoffset="8.5"/>
</g>
</g>
<rect x="62.0" y="31.95" width="619.1" height="460.15000000000003" fill="none" stroke="#1a1a1a" stroke-width="1.6"/>
<g stroke="#1a1a1a" stroke-width="1.4">
<line x1="89.3" y1="492.1" x2="89.3" y2="499.1"/>
<line x1="186.6" y1="492.1" x2="186.6" y2="499.1"/>
<line x1="283.8" y1="492.1" x2="283.8" y2="499.1"/>
<line x1="381.0" y1="492.1" x2="381.0" y2="499.1"/>
<line x1="478.1" y1="492.1" x2="478.1" y2="499.1"/>
<line x1="575.4" y1="492.1" x2="575.4" y2="499.1"/>
<line x1="672.6" y1="492.1" x2="672.6" y2="499.1"/>
<line x1="62.0" y1="434.5" x2="55.0" y2="434.5"/>
<line x1="62.0" y1="372.6" x2="55.0" y2="372.6"/>
<line x1="62.0" y1="310.7" x2="55.0" y2="310.7"/>
<line x1="62.0" y1="248.8" x2="55.0" y2="248.8"/>
<line x1="62.0" y1="186.9" x2="55.0" y2="186.9"/>
<line x1="62.0" y1="125.0" x2="55.0" y2="125.0"/>
<line x1="62.0" y1="63.1" x2="55.0" y2="63.1"/>
</g>
<g font-size="16.8" text-anchor="middle">
<text x="89.3" y="518.4">−2</text>
<text x="186.6" y="518.4">0</text>
<text x="283.8" y="518.4">2</text>
<text x="381.0" y="518.4">4</text>
<text x="478.1" y="518.4">6</text>
<text x="575.4" y="518.4">8</text>
<text x="672.6" y="518.4">10</text>
<text x="371" y="542">x</text>
</g>
<g font-size="16.8" text-anchor="end">
<text x="49.3" y="440.9">−2</text>
<text x="49.3" y="379.0">0</text>
<text x="49.3" y="317.1">2</text>
<text x="49.3" y="255.2">4</text>
<text x="49.3" y="193.3">6</text>
<text x="49.3" y="131.4">8</text>
<text x="49.3" y="69.5">10</text>
</g>
<text font-size="16.8" text-anchor="middle" transform="translate(12.7,263.2) rotate(-90)">y</text>
<text font-size="20.5" text-anchor="middle" x="371" y="19.9">iteration 20000</text>
<rect x="70.3" y="40.4" width="112.9" height="57.5" rx="3.2" fill="#fff" fill-opacity="0.8" stroke="#d4d4d4" stroke-width="1.1"/>
<circle cx="94.1" cy="54.5" r="5.2" fill="none" stroke="#5a86c6" stroke-width="1.9"/>
<rect x="89.0" y="75.4" width="10.2" height="10.2" fill="none" stroke="#f4a326" stroke-width="1.9"/>
<text font-size="16.8" x="127" y="60.4">y=-1</text>
<text font-size="16.8" x="127" y="85.9">y=+1</text>
</svg>
</body></html>
